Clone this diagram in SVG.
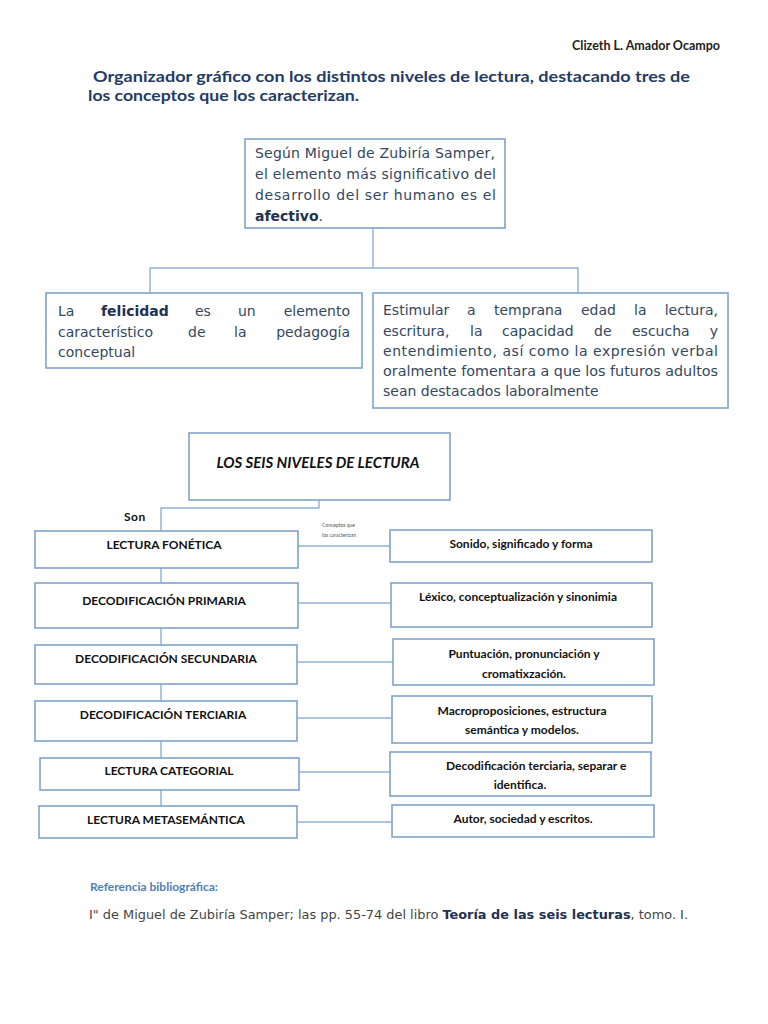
<svg xmlns="http://www.w3.org/2000/svg" width="768" height="1024" viewBox="0 0 768 1024">
<style>
.box{fill:#fff;stroke:#7fa3cc;stroke-width:1.6}
.con{fill:none;stroke:#8fb0d4;stroke-width:1.4}
.g{font-family:"DejaVu Sans",sans-serif;font-size:14px;fill:#33475f}
.gb{font-weight:bold;fill:#1f3150}
.e{text-anchor:end}
.c{font-family:Lato,"Liberation Sans",sans-serif;font-weight:bold;font-size:12px;fill:#111}
.cm{text-anchor:middle}
</style>
<rect width="768" height="1024" fill="#fff"/>
<text x="720" y="50" text-anchor="end" font-family="Lato,'Liberation Sans',sans-serif" font-weight="bold" font-size="12.5" fill="#222">Clizeth L. Amador Ocampo</text>
<text x="93" y="82" font-family="Lato,'Liberation Sans',sans-serif" font-weight="bold" font-size="16" fill="#1f3b66" textLength="597" lengthAdjust="spacingAndGlyphs">Organizador gráfico con los distintos niveles de lectura, destacando tres de</text>
<text x="88" y="101" font-family="Lato,'Liberation Sans',sans-serif" font-weight="bold" font-size="16" fill="#1f3b66" textLength="271" lengthAdjust="spacingAndGlyphs">los conceptos que los caracterizan.</text>

<g id="connectors">
<polyline class="con" points="373,228 373,268"/>
<polyline class="con" points="150,293 150,268 578,268 578,293"/>
<polyline class="con" points="319,500 319,508 161,508 161,531"/>
<line class="con" x1="161" y1="568" x2="161" y2="583"/>
<line class="con" x1="161" y1="628" x2="161" y2="645"/>
<line class="con" x1="161" y1="684" x2="161" y2="701"/>
<line class="con" x1="161" y1="741" x2="161" y2="758"/>
<line class="con" x1="161" y1="790" x2="161" y2="806"/>
<line class="con" x1="298" y1="546" x2="390" y2="546"/>
<line class="con" x1="298" y1="603" x2="391" y2="603"/>
<line class="con" x1="297" y1="662" x2="393" y2="662"/>
<line class="con" x1="297" y1="718" x2="392" y2="718"/>
<line class="con" x1="299" y1="772" x2="390" y2="772"/>
<line class="con" x1="297" y1="822" x2="392" y2="822"/>
</g>

<g id="top">
<rect class="box" x="245" y="139" width="260" height="89"/>
<text class="g" x="255" y="158" textLength="240" lengthAdjust="spacing">Según Miguel de Zubiría Samper,</text>
<text class="g" x="255" y="179" textLength="241" lengthAdjust="spacing">el elemento más significativo del</text>
<text class="g" x="255" y="200" textLength="241" lengthAdjust="spacing">desarrollo del ser humano es el</text>
<text class="g" x="255" y="221"><tspan class="gb">afectivo</tspan>.</text>
</g>

<g id="felicidad">
<rect class="box" x="46" y="293" width="316" height="75"/>
<text class="g" y="316"><tspan x="58">La</tspan><tspan x="101" class="gb">felicidad</tspan><tspan x="195">es</tspan><tspan x="238">un</tspan></text>
<text class="g e" x="350" y="316">elemento</text>
<text class="g" y="337"><tspan x="58">característico</tspan><tspan x="188">de</tspan><tspan x="234">la</tspan></text>
<text class="g e" x="350" y="337">pedagogía</text>
<text class="g" x="58" y="357">conceptual</text>
</g>

<g id="estimular">
<rect class="box" x="373" y="293" width="355" height="115"/>
<text class="g" y="315"><tspan x="383">Estimular</tspan><tspan x="467">a</tspan><tspan x="494">temprana</tspan><tspan x="581">edad</tspan><tspan x="634">la</tspan></text>
<text class="g e" x="718" y="315">lectura,</text>
<text class="g" y="336"><tspan x="383">escritura,</tspan><tspan x="470">la</tspan><tspan x="502">capacidad</tspan><tspan x="594">de</tspan><tspan x="632">escucha</tspan></text>
<text class="g e" x="718" y="336">y</text>
<text class="g" x="383" y="356" textLength="335" lengthAdjust="spacing">entendimiento, así como la expresión verbal</text>
<text class="g" x="383" y="376" textLength="335" lengthAdjust="spacingAndGlyphs">oralmente fomentara a que los futuros adultos</text>
<text class="g" x="383" y="396">sean destacados laboralmente</text>
</g>

<g id="niveles">
<rect class="box" x="189" y="433" width="261" height="67"/>
<text x="318" y="468" text-anchor="middle" font-family="Lato,'Liberation Sans',sans-serif" font-weight="bold" font-style="italic" font-size="15" fill="#111">LOS SEIS NIVELES DE LECTURA</text>
</g>
<text x="124" y="521" font-family="Lato,'Liberation Sans',sans-serif" font-weight="bold" font-size="12" fill="#111" letter-spacing="0.5">Son</text>
<text font-family="Lato,'Liberation Sans',sans-serif" font-size="5" fill="#555"><tspan x="322" y="527">Conceptos que</tspan><tspan x="322" y="537">los caracterizan</tspan></text>

<g id="n1"><rect class="box" x="35" y="531" width="263" height="37"/><text class="c cm" x="164" y="549">LECTURA FONÉTICA</text></g>
<g id="n2"><rect class="box" x="35" y="583" width="263" height="45"/><text class="c cm" x="164" y="605">DECODIFICACIÓN PRIMARIA</text></g>
<g id="n3"><rect class="box" x="35" y="645" width="262" height="39"/><text class="c cm" x="166" y="663">DECODIFICACIÓN SECUNDARIA</text></g>
<g id="n4"><rect class="box" x="35" y="701" width="262" height="40"/><text class="c cm" x="163" y="719">DECODIFICACIÓN TERCIARIA</text></g>
<g id="n5"><rect class="box" x="40" y="758" width="259" height="32"/><text class="c cm" x="169" y="775">LECTURA CATEGORIAL</text></g>
<g id="n6"><rect class="box" x="39" y="806" width="258" height="32"/><text class="c cm" x="166" y="824">LECTURA METASEMÁNTICA</text></g>

<g id="r1"><rect class="box" x="390" y="530" width="262" height="32"/><text class="c cm" x="521" y="548">Sonido, significado y forma</text></g>
<g id="r2"><rect class="box" x="391" y="583" width="261" height="44"/><text class="c cm" x="518" y="601">Léxico, conceptualización y sinonimia</text></g>
<g id="r3"><rect class="box" x="393" y="639" width="261" height="46"/><text class="c cm" x="524" y="658">Puntuación, pronunciación y</text><text class="c cm" x="524" y="678">cromatixzación.</text></g>
<g id="r4"><rect class="box" x="392" y="696" width="260" height="47"/><text class="c cm" x="522" y="715">Macroproposiciones, estructura</text><text class="c cm" x="522" y="734">semántica y modelos.</text></g>
<g id="r5"><rect class="box" x="390" y="752" width="261" height="44"/><text class="c" x="446" y="770">Decodificación terciaria, separar e</text><text class="c cm" x="520" y="789">identifica.</text></g>
<g id="r6"><rect class="box" x="392" y="805" width="262" height="32"/><text class="c cm" x="523" y="823">Autor, sociedad y escritos.</text></g>

<text x="90" y="891" font-family="Lato,'Liberation Sans',sans-serif" font-weight="bold" font-size="12" fill="#4f7fb8">Referencia bibliográfica:</text>
<text x="89" y="919" font-family="'DejaVu Sans',sans-serif" font-size="12.5" fill="#444" textLength="599" lengthAdjust="spacingAndGlyphs">I" de Miguel de Zubiría Samper; las pp. 55-74 del libro <tspan font-weight="bold" fill="#1f3150">Teoría de las seis lecturas</tspan>, tomo. I.</text>
</svg>
